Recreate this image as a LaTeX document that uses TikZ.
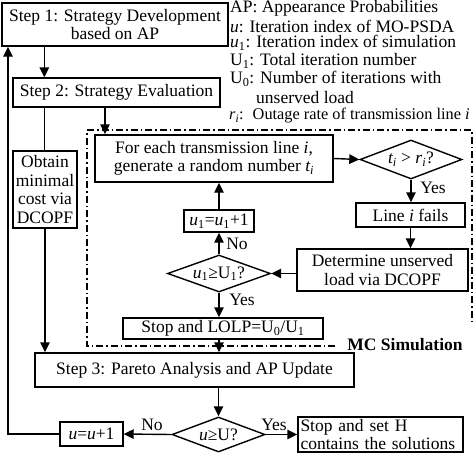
\documentclass[tikz,border=0pt]{standalone}
\usepackage{fontspec}
\setmainfont{Liberation Serif}
\usetikzlibrary{arrows.meta,shapes.geometric,calc}
\newcommand{\sbs}[1]{\textsubscript{#1}}
\begin{document}
\begin{tikzpicture}[x=1pt,y=-1pt,font=\fontsize{17.5}{18.5}\selectfont,
  box/.style={draw,line width=1.4pt,inner sep=0pt,align=center},
  dia/.style={draw,diamond,line width=1.4pt,inner sep=0pt},
  arr/.style={line width=1.4pt,-{Triangle[length=10pt,width=9.5pt]}},
  ln/.style={line width=1.4pt},
  lbl/.style={inner sep=0pt},
  leg/.style={inner sep=0pt,anchor=west},
  mcline/.style={line width=1.2pt,dash pattern=on 7pt off 3pt on 1.5pt off 3pt}]
\useasboundingbox (0,0) rectangle (474,455);
% legend
\node[leg] (l1) at (230,8) {AP: Appearance Probabilities};
\node[leg] (l2) at (230,26) {\textit{u}: Iteration index of MO-PSDA};
\node[leg] (l3) at (230,43) {\textit{u}\sbs{1}: Iteration index of simulation};
\node[leg] (l4) at (230,61) {U\sbs{1}: Total iteration number};
\node[leg] (l5) at (230,79) {U\sbs{0}: Number of iterations with};
\node[leg] (l6) at (256,98) {unserved load};
\node[leg,font=\fontsize{16.3}{18}\selectfont] (l7) at (229,116) {\textit{r\sbs{i}}:\hspace{9pt}Outage rate of transmission line \textit{i}};
% MC box
\coordinate (mc1) at (335,346);
\coordinate (mc2) at (87,346);
\coordinate (mc3) at (87,130);
\coordinate (mc4) at (472,130);
\coordinate (mc5) at (472,323);
\draw[mcline] (mc1) -- (mc2) -- (mc3) -- (mc4) -- (mc5);
\node[lbl,font=\fontsize{17.5}{18.5}\selectfont\bfseries] (mct) at (405,345) {MC Simulation};
% boxes
\node[box,minimum width=226pt,minimum height=43pt] (s1) at (115,24.5) {Step 1: Strategy Development\\based on AP};
\node[box,minimum width=207pt,minimum height=29pt] (s2) at (116.5,92.5) {Step 2: Strategy Evaluation};
\node[box,minimum width=64pt,minimum height=77pt] (ob) at (45,189.5) {Obtain\\minimal\\cost via\\DCOPF};
\node[box,minimum width=238pt,minimum height=47pt] (fe) at (214,158.5) {For each transmission line \textit{i},\\generate a random number \textit{t\sbs{i}}};
\node[dia,minimum width=102pt,minimum height=39pt] (dt) at (411,159.5) {};
\node[lbl] (dtt) at (dt) {\textit{t\sbs{i}} > \textit{r\sbs{i}}?};
\node[box,minimum width=109pt,minimum height=24pt] (lf) at (410.5,215) {Line \textit{i} fails};
\node[box,minimum width=171pt,minimum height=42pt] (de) at (382.5,270) {Determine unserved\\load via DCOPF};
\node[dia,minimum width=103pt,minimum height=37pt] (d1) at (219,273.5) {};
\node[lbl] (d1t) at (d1) {\textit{u}\sbs{1}≥U\sbs{1}?};
\node[box,minimum width=70pt,minimum height=22pt] (u1) at (219,221) {\textit{u}\sbs{1}=\textit{u}\sbs{1}+1};
\node[box,minimum width=200pt,minimum height=21pt] (st) at (223,328.5) {Stop and LOLP=U\sbs{0}/U\sbs{1}};
\node[box,minimum width=319pt,minimum height=34pt] (s3) at (194.5,370) {Step 3: Pareto Analysis and AP Update};
\node[dia,minimum width=93pt,minimum height=35pt] (du) at (218.5,434.5) {};
\node[lbl] (dut) at (du) {\textit{u}≥U?};
\node[box,minimum width=63pt,minimum height=24pt] (ub) at (91.5,434) {\textit{u}=\textit{u}+1};
\node[box,minimum width=165pt,minimum height=35pt,align=left,text width=160pt] (sh) at (380.5,434.5) {Stop and set H\\contains the solutions};
% labels
\node[lbl] (no1) at (237,244) {No};
\node[lbl] (ye1) at (242,300) {Yes};
\node[lbl] (ye2) at (433,188) {Yes};
\node[lbl] (no2) at (152,425) {No};
\node[lbl] (ye3) at (274,425) {Yes};
% connectors
\draw[arr] (s1.south -| s2.south west) ++(32,0) coordinate (a1) -- (a1 |- s2.north);
\draw[ln] (a1 |- s2.south) -- (a1 |- ob.north) ;
\draw[arr] (ob.south) -- (ob.south |- s3.north);
\coordinate (a2) at (105,0);
\draw[arr] (a2 |- s2.south) -- (a2 |- fe.north);
\draw[arr] (fe.east) -- (dt.west);
\draw[arr] (dt.south) -- (dt.south |- lf.north);
\draw[arr] (lf.south) -- (lf.south |- de.north);
\draw[arr] (de.west |- d1.east) -- (d1.east);
\draw[arr] (d1.north) -- (u1.south);
\draw[arr] (u1.north) -- (u1.north |- fe.south);
\draw[arr] (d1.south) -- (d1.south |- st.north);
\draw[arr] (d1.south |- st.south) -- (d1.south |- s3.north);
\draw[arr] (du.north |- s3.south) -- (du.north);
\draw[arr] (du.west) -- (ub.east);
\draw[arr] (du.east) -- (du.east -| sh.west);
\coordinate (lp) at (8,0);
\draw[arr] (ub.west) -- (lp |- ub.west) -- (lp |- s1.south);
\end{tikzpicture}
\end{document}
